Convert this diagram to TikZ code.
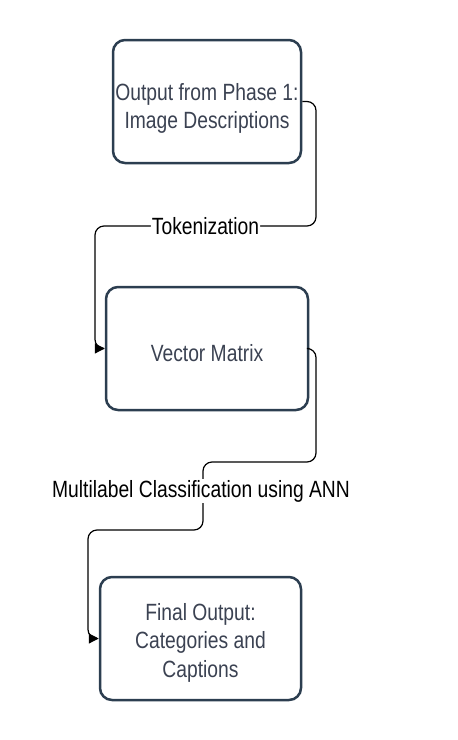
\documentclass[tikz,border=0pt]{standalone}
\usepackage{fontspec}
\setmainfont[FakeStretch=0.82]{Liberation Sans}
\usetikzlibrary{arrows.meta}
\definecolor{boxborder}{HTML}{2C3E50}
\definecolor{boxtext}{HTML}{3B4252}
\newcommand\topstrut{\rule{0pt}{25.5pt}}
\tikzset{
  stage/.style={draw=boxborder, line width=2.5pt, rounded corners=12pt, fill=white,
    align=center, text=boxtext, font=\fontsize{23.5}{28.5}\selectfont, inner sep=2pt},
  conn/.style={draw=black, line width=1.2pt, rounded corners=9pt, -{Triangle[length=10pt,width=10pt]}},
  edgelabel/.style={fill=white, text=black, inner sep=1pt, font=\fontsize{23.5}{26}\selectfont}
}
\begin{document}
\begin{tikzpicture}[x=1pt,y=-1pt]
\useasboundingbox (0,0) rectangle (458,740);
\node[stage, minimum width=188pt, minimum height=123pt] (b1) at (207,101.5)
  {\rule{0pt}{31pt}Output from Phase 1:\\Image Descriptions};
\node[stage, minimum width=202pt, minimum height=123pt] (b2) at (207,348.5)
  {\topstrut Vector Matrix};
\node[stage, minimum width=201pt, minimum height=123pt] (b3) at (200.5,638.5)
  {\topstrut Final Output:\\Categories and\\Captions};
\coordinate (c1) at (316,226);
\coordinate (c2) at (95,226);
\coordinate (d1) at (316,462);
\coordinate (d2) at (203,462);
\coordinate (d3) at (203,530);
\coordinate (d4) at (88,530);
\draw[conn] (b1.east) -| (c1) -- node[edgelabel]{Tokenization} (c2) |- (b2.west);
\draw[conn] (b2.east) -| (d1) -- (d2) -- (d3) -- (d4) |- (b3.west);
\node[edgelabel] (l2) at (201,491) {Multilabel Classification using ANN};
\end{tikzpicture}
\end{document}
